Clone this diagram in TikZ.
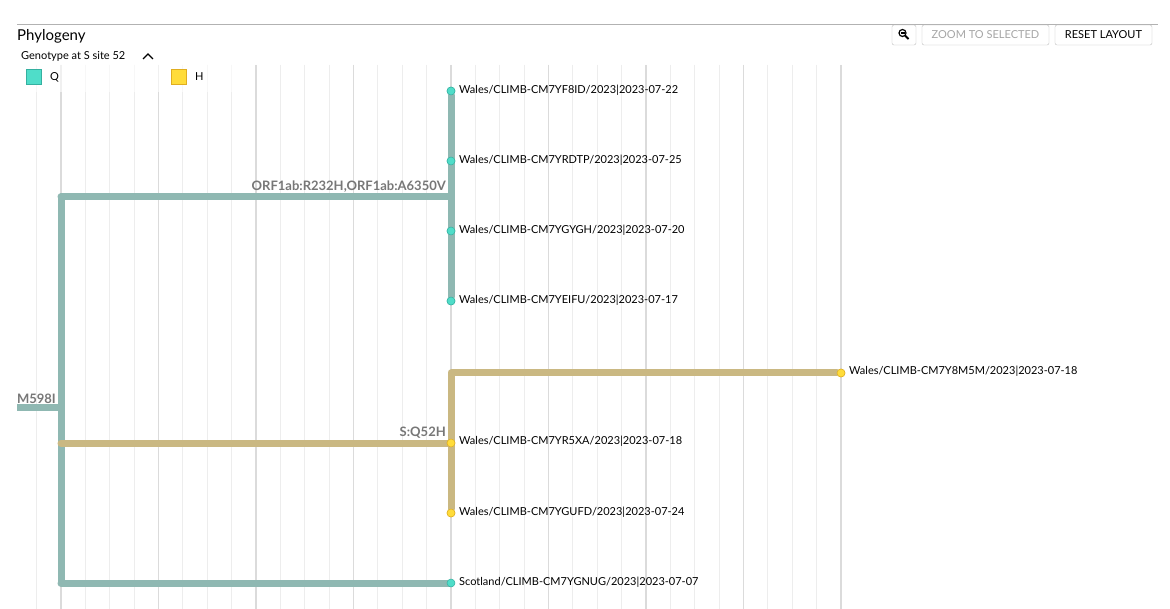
\documentclass[tikz,border=0pt]{standalone}
\usepackage{fontspec}
\setmainfont{Lato}
\definecolor{teal1}{HTML}{8FB8B2}
\definecolor{tan1}{HTML}{CAB882}
\definecolor{qfill}{HTML}{4FDDC9}
\definecolor{qdraw}{HTML}{35B0A0}
\definecolor{hfill}{HTML}{FFDC3A}
\definecolor{hdraw}{HTML}{E0AE20}
\definecolor{lbl}{HTML}{777777}
\tikzset{
 br/.style={line width=7pt, line cap=round, line join=round},
 qbr/.style={br, draw=teal1},
 hbr/.style={br, draw=tan1},
 qleaf/.style={circle, inner sep=0pt, minimum size=8pt, fill=qfill, draw=qdraw, line width=0.5pt},
 hleaf/.style={circle, inner sep=0pt, minimum size=8pt, fill=hfill, draw=hdraw, line width=0.5pt},
 tip/.style={anchor=west, font=\fontsize{11}{13}\selectfont, inner sep=0pt},
 mut/.style={anchor=south east, font=\fontsize{13}{15}\selectfont\bfseries, text=lbl, inner sep=0pt},
 btn/.style={draw=black!25, rounded corners=2pt, minimum height=20pt, inner sep=4pt, font=\fontsize{11}{13}\selectfont}
}
\begin{document}
\begin{tikzpicture}[x=1pt,y=-1pt]
\useasboundingbox (0,0) rectangle (1170,609);
\fill[white] (0,0) rectangle (1170,609);
% grid
\foreach \i in {0,...,33} {
  \pgfmathsetmacro{\xx}{36.6+24.375*\i}
  \draw[black!7, line width=1pt] (\xx,65) -- (\xx,609);
}
\foreach \i in {0,...,8} {
  \pgfmathsetmacro{\xx}{61+97.5*\i}
  \draw[black!14, line width=1.3pt] (\xx,65) -- (\xx,609);
}
\fill[white, opacity=0.6] (17,64) rectangle (240,92);
% header
\draw[black!30] (17,24) -- (1158,24);
\node[anchor=west, inner sep=0pt, font=\fontsize{15}{17}\selectfont] (title) at (17,36) {Phylogeny};
\node[anchor=west, inner sep=0pt, font=\fontsize{11}{13}\selectfont] (gt) at (21,56) {Genotype at S site 52};
\draw[line width=1.3pt] (143,59) -- (148,54) -- (153,59);
\node[draw=qdraw, fill=qfill, line width=1pt, minimum size=15pt, inner sep=0pt] (lq) at (33.5,77.5) {};
\node[anchor=west, inner sep=0pt, font=\fontsize{11}{13}\selectfont] at (50,77) {Q};
\node[draw=hdraw, fill=hfill, line width=1pt, minimum size=15pt, inner sep=0pt] (lh) at (178.5,77.5) {};
\node[anchor=west, inner sep=0pt, font=\fontsize{11}{13}\selectfont] at (195,77) {H};
\node[btn, minimum width=24pt] (bz) at (904,35) {};
\draw[line width=1.2pt] (902.5,33) circle (3.5pt);
\draw[line width=1.2pt] (900.5,33) -- (904.5,33);
\draw[line width=1.8pt] (905,35.5) -- (908.5,39);
\node[btn, minimum width=127pt, text=black!35] (bsel) at (985.5,35) {ZOOM TO SELECTED};
\node[btn, minimum width=97pt] (breset) at (1103.5,35) {RESET LAYOUT};
% tree
\coordinate (root) at (61,408);
\coordinate (ra) at (61,197);
\coordinate (rb) at (61,443);
\coordinate (rc) at (61,583);
\coordinate (na) at (451,197);
\coordinate (nb) at (451,443);
\coordinate (nbt) at (451,373);
\begin{scope}
\clip (17,0) rectangle (1170,609);
\draw[line width=7pt, teal1] (10,408) -- (root);
\node[mut] at (56,404) {M598I};
\end{scope}
\draw[qbr] (ra) -- (rc);
\draw[qbr] (ra) -- (na);
\node[qleaf] (l1) at (451,91) {};
\node[qleaf] (l2) at (451,161) {};
\node[qleaf] (l3) at (451,231) {};
\node[qleaf] (l4) at (451,301) {};
\draw[qbr] (l1) -- (l4);
\draw[qbr] (rc) -- (451,583);
\node[qleaf] (l8) at (451,583) {};
\draw[hbr] (rb) -- (nb);
\node[hleaf] (l5) at (841,373) {};
\node[hleaf] (l6) at (451,443) {};
\node[hleaf] (l7) at (451,513) {};
\draw[hbr] (l7) -- (nbt) -- (l5);
\node[hleaf] at (451,443) {};
\node[hleaf] at (451,513) {};
\node[hleaf] at (841,373) {};
\node[qleaf] at (451,91) {};
\node[qleaf] at (451,301) {};
\node[qleaf] at (451,161) {};
\node[qleaf] at (451,231) {};
\node[mut] at (446,193) {ORF1ab:R232H,ORF1ab:A6350V};
\node[mut] at (446,439) {S:Q52H};
\node[tip] at (459,90) {Wales/CLIMB-CM7YF8ID/2023|2023-07-22};
\node[tip] at (459,160) {Wales/CLIMB-CM7YRDTP/2023|2023-07-25};
\node[tip] at (459,230) {Wales/CLIMB-CM7YGYGH/2023|2023-07-20};
\node[tip] at (459,300) {Wales/CLIMB-CM7YEIFU/2023|2023-07-17};
\node[tip] at (849,371) {Wales/CLIMB-CM7Y8M5M/2023|2023-07-18};
\node[tip] at (459,441) {Wales/CLIMB-CM7YR5XA/2023|2023-07-18};
\node[tip] at (459,512) {Wales/CLIMB-CM7YGUFD/2023|2023-07-24};
\node[tip] at (459,582) {Scotland/CLIMB-CM7YGNUG/2023|2023-07-07};
\end{tikzpicture}
\end{document}
